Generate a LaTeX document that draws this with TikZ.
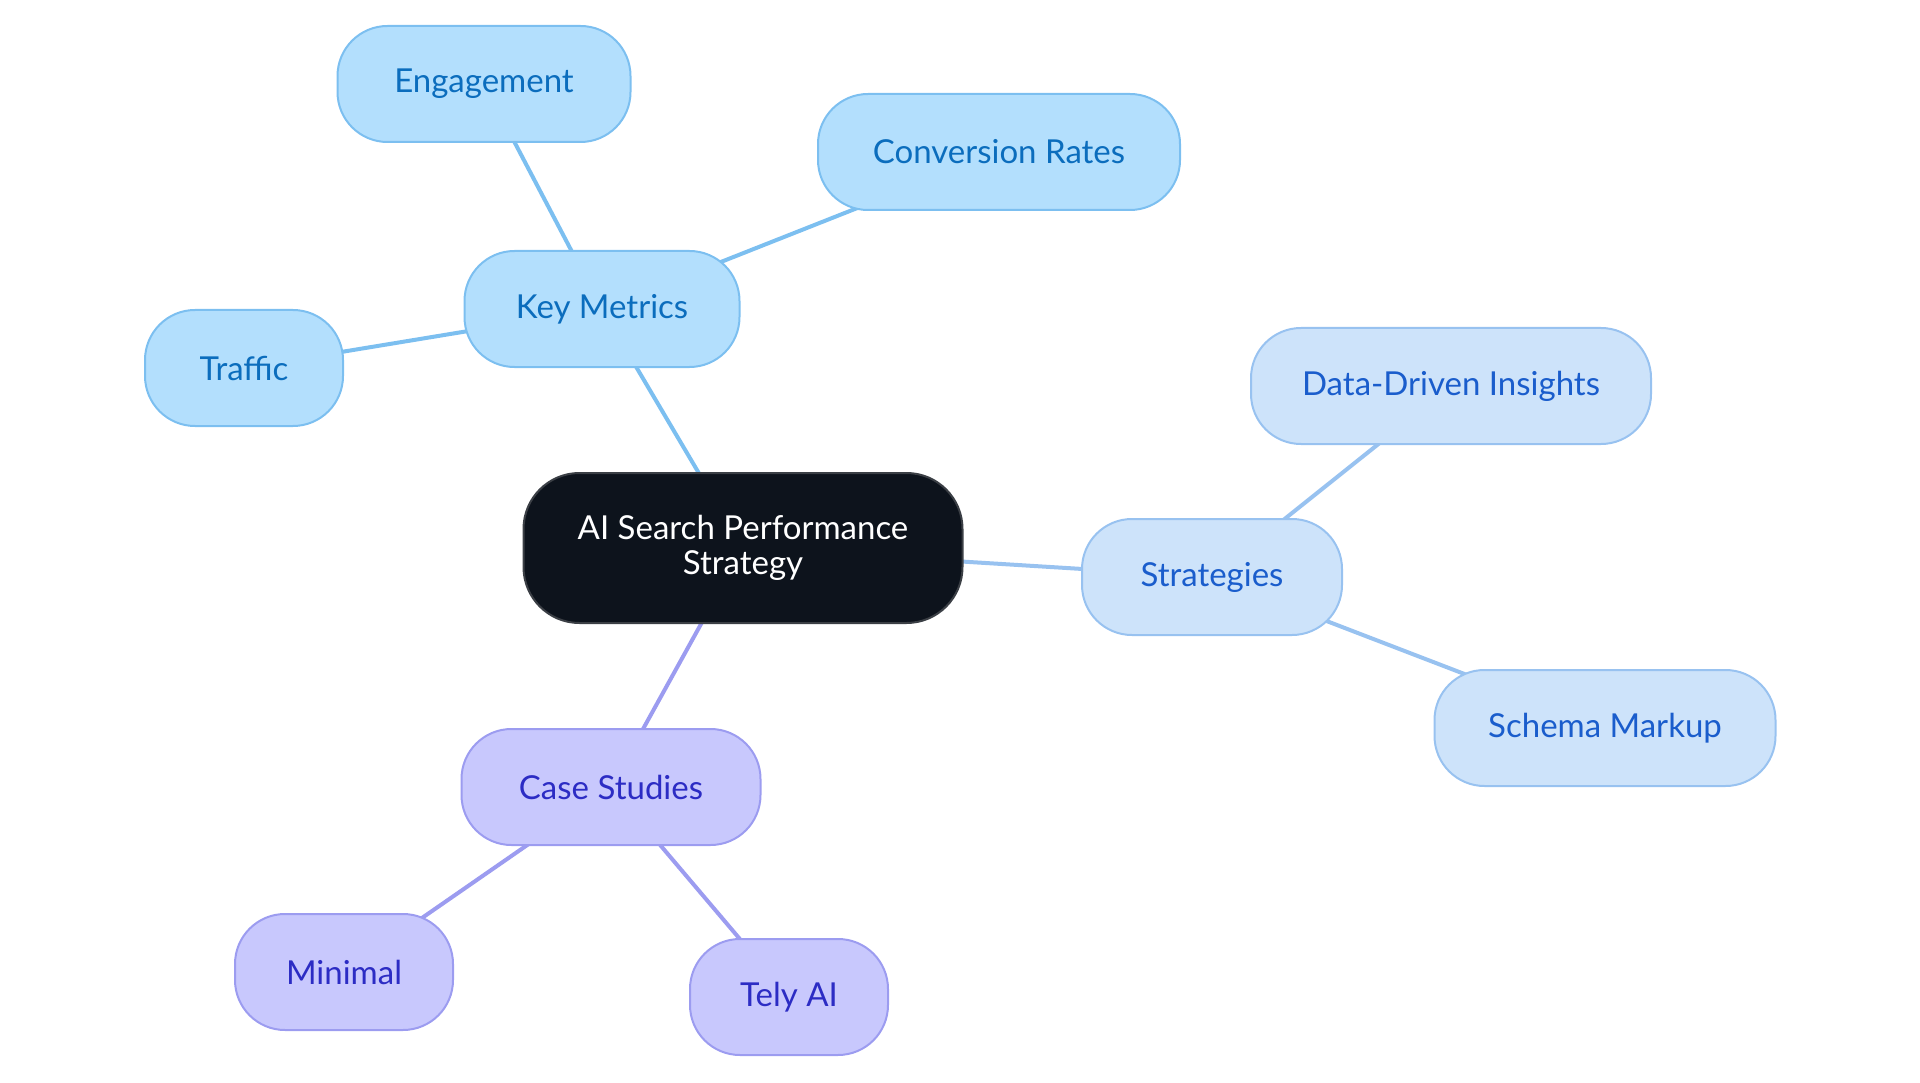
\documentclass[tikz,border=0pt]{standalone}
\usepackage{fontspec}
\setmainfont{Lato}
\usetikzlibrary{backgrounds}
\definecolor{kmfill}{HTML}{B3DFFD}
\definecolor{kmline}{HTML}{7CBFF0}
\definecolor{kmtext}{HTML}{0B6DBD}
\definecolor{stfill}{HTML}{CDE3FA}
\definecolor{stline}{HTML}{98C2F0}
\definecolor{sttext}{HTML}{1A5DCC}
\definecolor{csfill}{HTML}{C8C8FD}
\definecolor{csline}{HTML}{9C9CF0}
\definecolor{cstext}{HTML}{2C2CC4}
\definecolor{rootfill}{HTML}{0D131C}
\definecolor{rootline}{HTML}{3B3F45}
\tikzset{
  x=1pt, y=-1pt,
  box/.style={rounded corners=50pt, line width=2pt, minimum height=116pt,
    inner sep=0pt, font=\fontsize{33}{35}\selectfont, align=center},
  km/.style={box, fill=kmfill, draw=kmline, text=kmtext},
  st/.style={box, fill=stfill, draw=stline, text=sttext},
  cs/.style={box, fill=csfill, draw=csline, text=cstext},
  root/.style={box, rounded corners=56pt, minimum height=150pt, fill=rootfill, draw=rootline, text=white},
  kmedge/.style={draw=kmline, line width=4pt},
  stedge/.style={draw=stline, line width=4pt},
  csedge/.style={draw=csline, line width=4pt},
}
\begin{document}
\begin{tikzpicture}
\useasboundingbox (0,0) rectangle (1920,1083);
\node[root, minimum width=439pt] (root) at (743,548) {AI Search Performance\\Strategy};
\node[km, minimum width=275pt] (key) at (602,309) {Key Metrics};
\node[km, minimum width=293pt] (eng) at (484,84) {Engagement};
\node[km, minimum width=362pt] (conv) at (999,152) {Conversion Rates};
\node[km, minimum width=198pt] (traf) at (244,368) {Traffic};
\node[st, minimum width=260pt] (strat) at (1212,577) {Strategies};
\node[st, minimum width=400pt] (data) at (1451,386) {Data-Driven Insights};
\node[st, minimum width=341pt] (schema) at (1605,728) {Schema Markup};
\node[cs, minimum width=299pt] (case) at (611,787) {Case Studies};
\node[cs, minimum width=218pt] (mini) at (344,972) {Minimal};
\node[cs, minimum width=198pt] (tely) at (789,997) {Tely AI};
\begin{scope}[on background layer]
\draw[kmedge] (root.center) -- (key.center);
\draw[kmedge] (key.center) -- (eng.center);
\draw[kmedge] (key.center) -- (conv.center);
\draw[kmedge] (key.center) -- (traf.center);
\draw[stedge] (root.center) -- (strat.center);
\draw[stedge] (strat.center) -- (data.center);
\draw[stedge] (strat.center) -- (schema.center);
\draw[csedge] (root.center) -- (case.center);
\draw[csedge] (case.center) -- (mini.center);
\draw[csedge] (case.center) -- (tely.center);
\end{scope}
\end{tikzpicture}
\end{document}
